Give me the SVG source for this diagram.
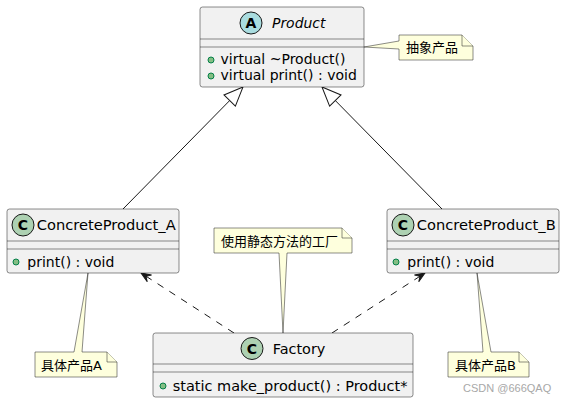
<svg xmlns="http://www.w3.org/2000/svg" width="566" height="404" viewBox="0 0 566 404">
<defs>
<style>
.box{fill:#F1F1F1;stroke:#181818;stroke-width:0.5}
.sep{stroke:#181818;stroke-width:0.5}
.t{font-family:"DejaVu Sans","Noto Sans CJK SC",sans-serif;font-size:14px;fill:#000}
.nt{font-family:"DejaVu Sans","Noto Sans CJK SC",sans-serif;font-size:13px;fill:#000}
.cir{stroke:#181818;stroke-width:1}
.ctext{font-family:"DejaVu Sans",sans-serif;font-size:14px;font-weight:bold;fill:#000;text-anchor:middle}
.dot{fill:#84BE84;stroke:#038048;stroke-width:1}
.note{fill:#FEFFDD;stroke:#181818;stroke-width:0.5}
.ext{stroke:#181818;stroke-width:1;fill:none;marker-end:url(#tri)}
.dep{stroke:#181818;stroke-width:1;fill:none;stroke-dasharray:7,7;marker-end:url(#arr)}
</style>
<marker id="tri" markerUnits="userSpaceOnUse" viewBox="-20 -10 22 20" refX="0" refY="0" markerWidth="22" markerHeight="20" orient="auto">
<path d="M0,0 L-19,-8 L-19,8 Z" fill="#FFFFFF" stroke="#181818" stroke-width="1"/>
</marker>
<marker id="arr" markerUnits="userSpaceOnUse" viewBox="-12 -6 14 12" refX="0" refY="0" markerWidth="14" markerHeight="12" orient="auto">
<path d="M0,0 L-10,-4 L-6,0 L-10,4 Z" fill="#181818" stroke="#181818" stroke-width="1"/>
</marker>
</defs>
<rect width="566" height="404" fill="#FFFFFF"/>

<g id="connectors">
<line class="ext" x1="123" y1="209" x2="243" y2="87"/>
<line class="ext" x1="442" y1="209" x2="322" y2="87"/>
<line class="dep" x1="234" y1="333" x2="141" y2="273"/>
<line class="dep" x1="332" y1="333" x2="425" y2="273"/>
</g>

<g id="Product">
<rect class="box" x="200" y="7" width="164" height="80" rx="2.5"/>
<circle class="cir" cx="251" cy="23" r="11" fill="#A9DCDF"/>
<text class="ctext" x="251" y="28">A</text>
<text class="t" x="272" y="28" font-style="italic" textLength="53.4" lengthAdjust="spacingAndGlyphs">Product</text>
<line class="sep" x1="200" y1="39" x2="364" y2="39"/>
<line class="sep" x1="200" y1="47" x2="364" y2="47"/>
<circle class="dot" cx="211" cy="60" r="3"/>
<text class="t" x="220.5" y="64">virtual ~Product()</text>
<circle class="dot" cx="211" cy="76" r="3"/>
<text class="t" x="220.5" y="80">virtual print() : void</text>
</g>

<g id="ConcreteProduct_A">
<rect class="box" x="7" y="209" width="172" height="64" rx="2.5"/>
<circle class="cir" cx="23" cy="225" r="11" fill="#ADD1B2"/>
<text class="ctext" x="23" y="230">C</text>
<text class="t" x="36.7" y="230" textLength="139" lengthAdjust="spacingAndGlyphs">ConcreteProduct_A</text>
<line class="sep" x1="7" y1="241" x2="179" y2="241"/>
<line class="sep" x1="7" y1="249" x2="179" y2="249"/>
<circle class="dot" cx="16" cy="262" r="3"/>
<text class="t" x="27.3" y="267">print() : void</text>
</g>

<g id="ConcreteProduct_B">
<rect class="box" x="387" y="209" width="172" height="64" rx="2.5"/>
<circle class="cir" cx="403" cy="225" r="11" fill="#ADD1B2"/>
<text class="ctext" x="403" y="230">C</text>
<text class="t" x="416.7" y="230" textLength="139" lengthAdjust="spacingAndGlyphs">ConcreteProduct_B</text>
<line class="sep" x1="387" y1="241" x2="559" y2="241"/>
<line class="sep" x1="387" y1="249" x2="559" y2="249"/>
<circle class="dot" cx="396" cy="262" r="3"/>
<text class="t" x="407.3" y="267">print() : void</text>
</g>

<g id="Factory">
<rect class="box" x="153" y="333" width="260" height="64" rx="2.5"/>
<circle class="cir" cx="252" cy="348.5" r="11" fill="#ADD1B2"/>
<text class="ctext" x="252" y="353.5">C</text>
<text class="t" x="272.7" y="354" textLength="52.7" lengthAdjust="spacingAndGlyphs">Factory</text>
<line class="sep" x1="153" y1="364" x2="413" y2="364"/>
<line class="sep" x1="153" y1="372" x2="413" y2="372"/>
<circle class="dot" cx="163" cy="386" r="3"/>
<text class="t" x="172.7" y="391" textLength="234.7" lengthAdjust="spacingAndGlyphs">static make_product() : Product*</text>
</g>

<g id="note_abstract">
<path class="note" d="M399,35 L462,35 L473,46 L473,60 L399,60 L399,49 L364,47 L399,41 Z"/>
<path class="note" d="M462,35 L462,46 L473,46"/>
<text class="nt" x="406" y="52">抽象产品</text>
</g>

<g id="note_factory">
<path class="note" d="M214,228 L342,228 L352,238 L352,253 L287,253 L283,333 L279,253 L214,253 Z"/>
<path class="note" d="M342,228 L342,238 L352,238"/>
<text class="nt" x="221" y="246">使用静态方法的工厂</text>
</g>

<g id="note_A">
<path class="note" d="M35,352 L74,352 L88,273 L82,352 L107,352 L117,362 L117,377 L35,377 Z"/>
<path class="note" d="M107,352 L107,362 L117,362"/>
<text class="nt" x="41" y="370">具体产品A</text>
</g>

<g id="note_B">
<path class="note" d="M448,352 L483,352 L477,273 L491,352 L519,352 L529,362 L529,377 L448,377 Z"/>
<path class="note" d="M519,352 L519,362 L529,362"/>
<text class="nt" x="455" y="370">具体产品B</text>
</g>

<text x="463" y="392" font-family="'Liberation Sans',Arial,sans-serif" font-size="11" fill="#A8A8A8">CSDN @666QAQ</text>
</svg>
